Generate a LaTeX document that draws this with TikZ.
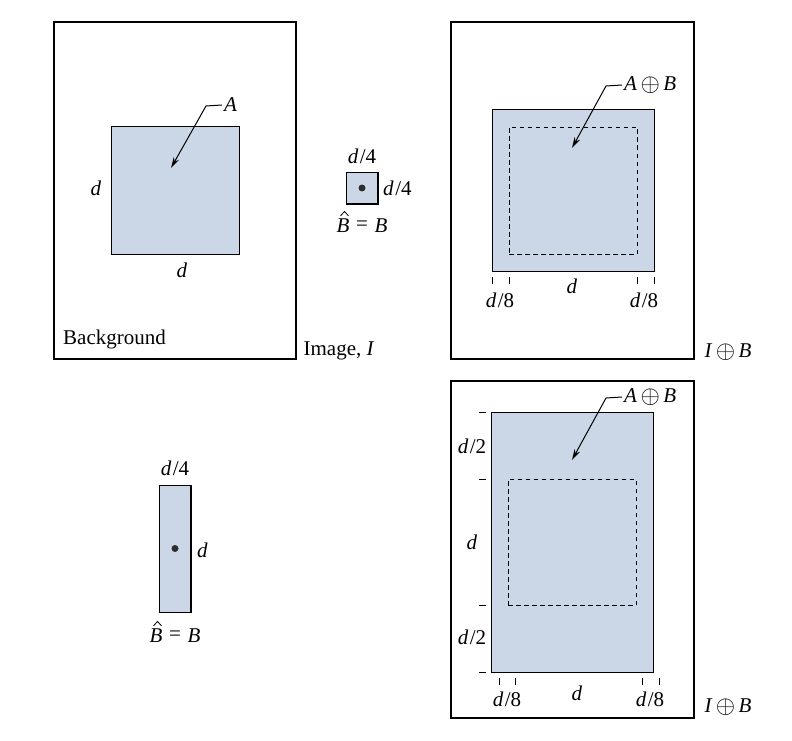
\documentclass[tikz,border=0pt]{standalone}
\usepackage{fontspec}
\setmainfont{Liberation Serif}
\usetikzlibrary{arrows.meta}
\definecolor{fillblue}{RGB}{203,215,230}
\definecolor{dotgray}{RGB}{45,45,45}
\newcommand{\dd}{\textit{d}}
\newcommand{\dfr}[1]{\textit{d}\kern1.5pt/#1}
\newcommand{\bop}{\,\raisebox{-0.08em}{\scalebox{1.2}{$\oplus$}}\,}
\begin{document}
\begin{tikzpicture}[x=1pt,y=-1pt,
  frame/.style={draw=black,line width=1.3pt,inner sep=0pt,outer sep=0pt},
  shaded/.style={draw=black,fill=fillblue,line width=1pt,inner sep=0pt,outer sep=0pt},
  dashbox/.style={draw=black,line width=0.9pt,dash pattern=on 4.5pt off 3.5pt,inner sep=0pt},
  tickline/.style={line width=0.9pt},
  lbl/.style={font=\fontsize{21}{24}\selectfont,inner sep=0pt},
  ptr/.style={line width=1pt,-{Stealth[length=11pt,width=6pt]}},
  dotnode/.style={circle,fill=dotgray,inner sep=0pt,minimum size=7pt},
  hatline/.style={line width=0.8pt,line join=miter},
]
\useasboundingbox (0,0) rectangle (792,741);

% ---------- Panel 1: Image I ----------
\node[frame,minimum width=242pt,minimum height=337pt] (img) at (175,190.5) {};
\node[shaded,minimum width=128pt,minimum height=127pt] (A) at (175,190.5) {};
\node[lbl] (dA1) at (96,188) {\dd};
\node[lbl] (dA2) at (182,270) {\dd};
\node[lbl,anchor=west] (bg) at (63,339) {Background};
\node[lbl] (imgl) at (339,351) {Image, \textit{I}};
\node[lbl,anchor=west,inner sep=2pt] (labA) at (222,105) {\textit{A}};
\coordinate (cA) at (206,106);
\coordinate (tA) at (171,168);
\draw[ptr] (labA.west) -- (cA) -- (tA);

% ---------- Small structuring element ----------
\node[shaded,minimum width=32pt,minimum height=32pt] (Bs) at (362,188) {};
\draw[line width=1.8pt] (Bs.north east) -- (Bs.south east) -- (Bs.south west);
\node[dotnode] (Bsdot) at (Bs.center) {};
\node[lbl] (Bst) at (362,156) {\dfr{4}};
\node[lbl,anchor=west] (Bsr) at (383,188) {\dfr{4}};
\node[lbl] (Bsl1) at (343,226) {\textit{B}};
\node[lbl] (Bsl2) at (362,226) {=};
\node[lbl] (Bsl3) at (381,226) {\textit{B}};
\draw[hatline] ([shift={(-2.5,-3)}]Bsl1.north) -- ([shift={(1.5,-7.5)}]Bsl1.north) -- ([shift={(5.5,-3)}]Bsl1.north);

% ---------- Panel 2: I (+) B ----------
\node[frame,minimum width=243pt,minimum height=337pt] (p2) at (572.5,190.5) {};
\node[shaded,minimum width=162pt,minimum height=161pt] (F2) at (573,190.5) {};
\node[dashbox,minimum width=128pt,minimum height=127pt] (D2) at (573,190.5) {};
\coordinate (t2a1) at (492,277); \coordinate (t2a2) at (492,284);
\coordinate (t2b1) at (509,277); \coordinate (t2b2) at (509,284);
\coordinate (t2c1) at (637,277); \coordinate (t2c2) at (637,284);
\coordinate (t2d1) at (654,277); \coordinate (t2d2) at (654,284);
\draw[tickline] (t2a1) -- (t2a2) (t2b1) -- (t2b2) (t2c1) -- (t2c2) (t2d1) -- (t2d2);
\node[lbl] (p2l1) at (500,300) {\dfr{8}};
\node[lbl] (p2l2) at (572,286) {\dd};
\node[lbl] (p2l3) at (644,300) {\dfr{8}};
\node[lbl] (p2n) at (728,352) {\textit{I}\bop\textit{B}};
\node[lbl,anchor=west,inner sep=2pt] (lab2) at (622,85) {\textit{A}\bop\textit{B}};
\coordinate (c2) at (606,86);
\coordinate (tp2) at (572,148);
\draw[ptr] (lab2.west) -- (c2) -- (tp2);

% ---------- Tall structuring element ----------
\node[shaded,minimum width=32pt,minimum height=127pt] (Bt) at (175,548.5) {};
\draw[line width=1.8pt] (Bt.north east) -- (Bt.south east);
\node[dotnode] (Btdot) at (Bt.center) {};
\node[lbl] (Btt) at (175,468) {\dfr{4}};
\node[lbl,anchor=west] (Btr) at (197,550) {\dd};
\node[lbl] (Btl1) at (156,636) {\textit{B}};
\node[lbl] (Btl2) at (175,636) {=};
\node[lbl] (Btl3) at (194,636) {\textit{B}};
\draw[hatline] ([shift={(-2.5,-3)}]Btl1.north) -- ([shift={(1.5,-7.5)}]Btl1.north) -- ([shift={(5.5,-3)}]Btl1.north);

% ---------- Panel 3: I (+) B ----------
\node[frame,minimum width=243pt,minimum height=337pt] (p3) at (572.5,549.5) {};
\node[shaded,minimum width=162pt,minimum height=260pt] (F3) at (572,542) {};
\node[dashbox,minimum width=128pt,minimum height=126pt] (D3) at (572,542) {};
\coordinate (l3a1) at (479,412); \coordinate (l3a2) at (486,412);
\coordinate (l3b1) at (479,479); \coordinate (l3b2) at (486,479);
\coordinate (l3c1) at (479,605); \coordinate (l3c2) at (486,605);
\coordinate (l3d1) at (479,672); \coordinate (l3d2) at (486,672);
\draw[tickline] (l3a1) -- (l3a2) (l3b1) -- (l3b2) (l3c1) -- (l3c2) (l3d1) -- (l3d2);
\coordinate (b3a1) at (499,678); \coordinate (b3a2) at (499,685);
\coordinate (b3b1) at (515,678); \coordinate (b3b2) at (515,685);
\coordinate (b3c1) at (642,678); \coordinate (b3c2) at (642,685);
\coordinate (b3d1) at (659,678); \coordinate (b3d2) at (659,685);
\draw[tickline] (b3a1) -- (b3a2) (b3b1) -- (b3b2) (b3c1) -- (b3c2) (b3d1) -- (b3d2);
\node[lbl] (p3v1) at (472,446) {\dfr{2}};
\node[lbl] (p3v2) at (472,542) {\dd};
\node[lbl] (p3v3) at (472,637) {\dfr{2}};
\node[lbl] (p3h1) at (507,699) {\dfr{8}};
\node[lbl] (p3h2) at (577,693) {\dd};
\node[lbl] (p3h3) at (650,699) {\dfr{8}};
\node[lbl] (p3n) at (728,707) {\textit{I}\bop\textit{B}};
\node[lbl,anchor=west,inner sep=2pt] (lab3) at (622,397) {\textit{A}\bop\textit{B}};
\coordinate (c3) at (606,398);
\coordinate (tp3) at (572,460);
\draw[ptr] (lab3.west) -- (c3) -- (tp3);
\end{tikzpicture}
\end{document}
